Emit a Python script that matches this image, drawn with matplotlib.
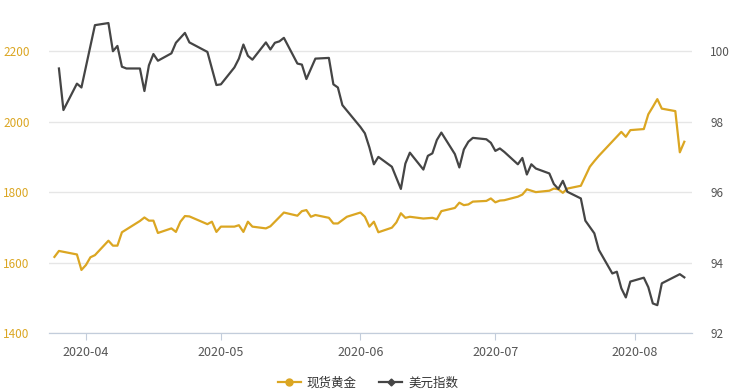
import pandas as pd
import matplotlib
matplotlib.use("Agg")
import matplotlib.pyplot as plt
import matplotlib.dates as mdates
from matplotlib.lines import Line2D

plt.rcParams['font.family'] = ['Noto Sans CJK SC', 'DejaVu Sans']

# 现货黄金 (left axis)
gold_dates = ['2020-03-25', '2020-03-26', '2020-03-30', '2020-03-31', '2020-04-01', '2020-04-02',
              '2020-04-03', '2020-04-06', '2020-04-07', '2020-04-08', '2020-04-09', '2020-04-13',
              '2020-04-14', '2020-04-15', '2020-04-16', '2020-04-17', '2020-04-20', '2020-04-21',
              '2020-04-22', '2020-04-23', '2020-04-24', '2020-04-28', '2020-04-29', '2020-04-30',
              '2020-05-01', '2020-05-04', '2020-05-05', '2020-05-06', '2020-05-07', '2020-05-08',
              '2020-05-11', '2020-05-12', '2020-05-15', '2020-05-18', '2020-05-19', '2020-05-20',
              '2020-05-21', '2020-05-22', '2020-05-25', '2020-05-26', '2020-05-27', '2020-05-29',
              '2020-06-01', '2020-06-02', '2020-06-03', '2020-06-04', '2020-06-05', '2020-06-08',
              '2020-06-09', '2020-06-10', '2020-06-11', '2020-06-12', '2020-06-15', '2020-06-17',
              '2020-06-18', '2020-06-19', '2020-06-22', '2020-06-23', '2020-06-24', '2020-06-25',
              '2020-06-26', '2020-06-29', '2020-06-30', '2020-07-01', '2020-07-02', '2020-07-03',
              '2020-07-06', '2020-07-07', '2020-07-08', '2020-07-10', '2020-07-13', '2020-07-14',
              '2020-07-15', '2020-07-16', '2020-07-17', '2020-07-20', '2020-07-22', '2020-07-23',
              '2020-07-24', '2020-07-29', '2020-07-30', '2020-07-31', '2020-08-03', '2020-08-04',
              '2020-08-05', '2020-08-06', '2020-08-07', '2020-08-10', '2020-08-11', '2020-08-12']
gold_values = [1616, 1633, 1623, 1579, 1593, 1615,
               1621, 1662, 1648, 1648, 1686, 1718,
               1728, 1719, 1719, 1684, 1697, 1687,
               1716, 1732, 1731, 1709, 1716, 1687,
               1702, 1702, 1706, 1687, 1716, 1702,
               1697, 1703, 1742, 1733, 1746, 1749,
               1730, 1735, 1727, 1711, 1711, 1730,
               1742, 1730, 1702, 1716, 1686, 1699,
               1714, 1740, 1727, 1730, 1725, 1727,
               1723, 1746, 1755, 1770, 1763, 1765,
               1773, 1775, 1782, 1771, 1776, 1777,
               1787, 1793, 1808, 1800, 1804, 1810,
               1808, 1798, 1810, 1818, 1872, 1888,
               1903, 1971, 1957, 1976, 1979, 2021,
               2042, 2064, 2037, 2030, 1913, 1943]

# 美元指数 (right axis)
usd_dates = ['2020-03-26', '2020-03-27', '2020-03-30', '2020-03-31', '2020-04-03', '2020-04-06',
             '2020-04-07', '2020-04-08', '2020-04-09', '2020-04-10', '2020-04-13', '2020-04-14',
             '2020-04-15', '2020-04-16', '2020-04-17', '2020-04-20', '2020-04-21', '2020-04-23',
             '2020-04-24', '2020-04-28', '2020-04-30', '2020-05-01', '2020-05-04', '2020-05-05',
             '2020-05-06', '2020-05-07', '2020-05-08', '2020-05-11', '2020-05-12', '2020-05-13',
             '2020-05-14', '2020-05-15', '2020-05-18', '2020-05-19', '2020-05-20', '2020-05-22',
             '2020-05-25', '2020-05-26', '2020-05-27', '2020-05-28', '2020-06-01', '2020-06-02',
             '2020-06-03', '2020-06-04', '2020-06-05', '2020-06-08', '2020-06-10', '2020-06-11',
             '2020-06-12', '2020-06-15', '2020-06-16', '2020-06-17', '2020-06-18', '2020-06-19',
             '2020-06-22', '2020-06-23', '2020-06-24', '2020-06-25', '2020-06-26', '2020-06-29',
             '2020-06-30', '2020-07-01', '2020-07-02', '2020-07-03', '2020-07-06', '2020-07-07',
             '2020-07-08', '2020-07-09', '2020-07-10', '2020-07-13', '2020-07-14', '2020-07-15',
             '2020-07-16', '2020-07-17', '2020-07-20', '2020-07-21', '2020-07-23', '2020-07-24',
             '2020-07-27', '2020-07-28', '2020-07-29', '2020-07-30', '2020-07-31', '2020-08-03',
             '2020-08-04', '2020-08-05', '2020-08-06', '2020-08-07', '2020-08-11', '2020-08-12']
usd_values = [99.51, 98.33, 99.08, 98.97, 100.74, 100.80,
              100.00, 100.15, 99.56, 99.51, 99.51, 98.87,
              99.60, 99.92, 99.73, 99.94, 100.24, 100.52,
              100.25, 99.98, 99.04, 99.06, 99.54, 99.79,
              100.19, 99.87, 99.76, 100.25, 100.05, 100.24,
              100.28, 100.38, 99.65, 99.62, 99.21, 99.79,
              99.81, 99.06, 98.97, 98.47, 97.85, 97.67,
              97.27, 96.79, 97.00, 96.72, 96.09, 96.81,
              97.12, 96.64, 97.03, 97.10, 97.48, 97.69,
              97.08, 96.70, 97.21, 97.43, 97.54, 97.50,
              97.40, 97.17, 97.24, 97.14, 96.79, 96.97,
              96.50, 96.79, 96.67, 96.53, 96.23, 96.09,
              96.32, 96.01, 95.82, 95.19, 94.83, 94.36,
              93.69, 93.74, 93.27, 93.01, 93.46, 93.57,
              93.30, 92.84, 92.79, 93.41, 93.67, 93.58]

gold_color = '#dba622'
usd_color = '#454545'

fig = plt.figure(figsize=(7.3, 3.91), dpi=100)
ax = fig.add_axes([49 / 730, 1 - 333 / 391, (692 - 49) / 730, (333 - 16) / 391])
ax2 = ax.twinx()

ax.plot(pd.to_datetime(gold_dates), gold_values, color=gold_color, lw=1.6, zorder=3)
ax2.plot(pd.to_datetime(usd_dates), usd_values, color=usd_color, lw=1.6, zorder=3)

ax.set_ylim(1400, 2300)
ax.set_yticks([1400, 1600, 1800, 2000, 2200])
ax2.set_ylim(92, 101)
ax2.set_yticks([92, 94, 96, 98, 100])
ax.set_xlim(pd.Timestamp('2020-03-23 19:00'), pd.Timestamp('2020-08-13 17:00'))

ax.xaxis.set_major_locator(mdates.MonthLocator())
ax.xaxis.set_major_formatter(mdates.DateFormatter('%Y-%m'))

ax.grid(axis='y', color='#e6e6e6', lw=1)
ax.set_axisbelow(True)
for a in (ax, ax2):
    for s in ('top', 'left', 'right'):
        a.spines[s].set_visible(False)
    a.spines['bottom'].set_color('#c3cddb')

ax.tick_params(axis='y', length=0, pad=14, labelsize=8.5, labelcolor=gold_color)
ax2.tick_params(axis='y', length=0, pad=13, labelsize=8.5, labelcolor='#555555')
ax.tick_params(axis='x', length=5, color='#c3cddb', pad=4, labelsize=9, labelcolor='#555555')

handles = [Line2D([], [], color=gold_color, lw=1.6, marker='o', ms=5),
           Line2D([], [], color=usd_color, lw=1.6, marker='D', ms=3.5)]
fig.legend(handles, ['现货黄金', '美元指数'], loc='center', bbox_to_anchor=(368 / 730, 1 - 383 / 391),
           ncol=2, frameon=False, fontsize=9, handlelength=1.8, columnspacing=1.8,
           handletextpad=0.5, labelcolor='#333333')

fig.savefig('out.png', dpi=100)
